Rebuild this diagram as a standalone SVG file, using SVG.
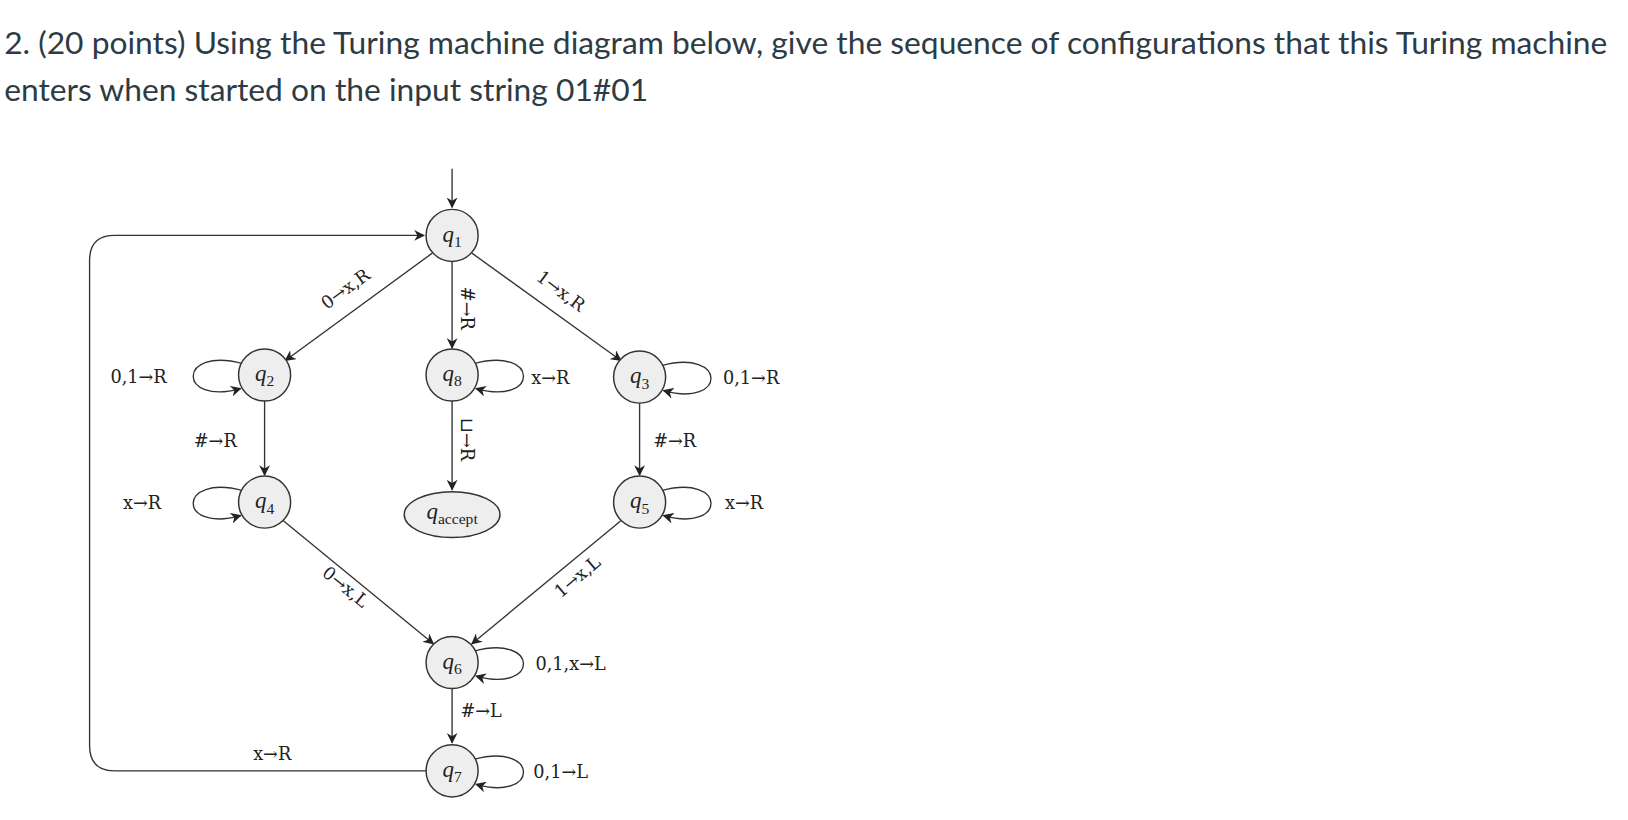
<svg xmlns="http://www.w3.org/2000/svg" width="1628" height="820" viewBox="0 0 1628 820">
<style>
.h{font-family:Lato,"Open Sans",sans-serif;font-size:30.5px;fill:#2d3b45}
.n{fill:#eeeeee;stroke:#333;stroke-width:1.4}
.q{font-family:"Liberation Serif",serif;font-style:italic;font-size:22px;fill:#222;text-anchor:middle}
.s{font-size:15px;font-style:normal}
.e{fill:none;stroke:#333;stroke-width:1.3;marker-end:url(#a)}
.l{font-family:"DejaVu Serif",serif;font-size:17px;fill:#222}
</style>
<defs><marker id="a" viewBox="0 0 10 10" refX="9" refY="5" markerWidth="8" markerHeight="8" orient="auto"><path d="M0,0 L10,5 L0,10 L3,5 z" fill="#222"/></marker></defs>
<rect width="1628" height="820" fill="#fff"/>
<g transform="scale(1.0417)">
<text class="h" x="4" y="52">2. (20 points) Using the Turing machine diagram below, give the sequence of configurations that this Turing machine</text>
<text class="h" x="4" y="97">enters when started on the input string 01#01</text>
<g id="edges">
<path class="e" d="M434,162 V199"/>
<path class="e" d="M415,243 L274,346"/>
<path class="e" d="M453,243 L596,346"/>
<path class="e" d="M434,251 V334"/>
<path class="e" d="M434,385 V470"/>
<path class="e" d="M254,385 V456"/>
<path class="e" d="M614,387 V456"/>
<path class="e" d="M272,500 L416,618"/>
<path class="e" d="M596,500 L453,618"/>
<path class="e" d="M434,661 V713"/>
<path class="e" d="M409,740 H110 Q86,740 86,716 V250 Q86,226 110,226 H407"/>
<path class="e" d="M233,349 C170,332 170,390 231,373"/>
<path class="e" d="M233,471 C170,454 170,512 231,495"/>
<path class="e" d="M455,349 C518,332 518,390 457,373"/>
<path class="e" d="M635,351 C698,334 698,392 637,375"/>
<path class="e" d="M635,471 C698,454 698,512 637,495"/>
<path class="e" d="M455,625 C518,608 518,666 457,649"/>
<path class="e" d="M455,729 C518,712 518,770 457,753"/>
<text class="l" x="335" y="282" transform="rotate(-36 335 282)" text-anchor="middle">0→x,R</text>
<text class="l" x="535" y="284" transform="rotate(37 535 284)" text-anchor="middle">1→x,R</text>
<text class="l" x="443" y="296" transform="rotate(90 443 296)" text-anchor="middle">#→R</text>
<text class="l" x="443" y="422" transform="rotate(90 443 422)" text-anchor="middle">⊔→R</text>
<text class="l" x="328" y="568" transform="rotate(39 328 568)" text-anchor="middle">0→x,L</text>
<text class="l" x="558" y="558" transform="rotate(-40 558 558)" text-anchor="middle">1→x,L</text>
<text class="l" x="106" y="368">0,1→R</text>
<text class="l" x="186" y="429">#→R</text>
<text class="l" x="118" y="489">x→R</text>
<text class="l" x="510" y="369">x→R</text>
<text class="l" x="694" y="369">0,1→R</text>
<text class="l" x="627" y="429">#→R</text>
<text class="l" x="696" y="489">x→R</text>
<text class="l" x="514" y="643">0,1,x→L</text>
<text class="l" x="442" y="688">#→L</text>
<text class="l" x="243" y="730">x→R</text>
<text class="l" x="512" y="747">0,1→L</text>
</g>
<g id="q1"><circle class="n" cx="434" cy="226" r="25"/><text class="q" x="434" y="232">q<tspan class="s" dy="5">1</tspan></text></g>
<g id="q2"><circle class="n" cx="254" cy="360" r="25"/><text class="q" x="254" y="366">q<tspan class="s" dy="5">2</tspan></text></g>
<g id="q8"><circle class="n" cx="434" cy="360" r="25"/><text class="q" x="434" y="366">q<tspan class="s" dy="5">8</tspan></text></g>
<g id="q3"><circle class="n" cx="614" cy="362" r="25"/><text class="q" x="614" y="368">q<tspan class="s" dy="5">3</tspan></text></g>
<g id="q4"><circle class="n" cx="254" cy="482" r="25"/><text class="q" x="254" y="488">q<tspan class="s" dy="5">4</tspan></text></g>
<g id="qaccept"><ellipse class="n" cx="434" cy="494" rx="46" ry="22"/><text class="q" x="434" y="498">q<tspan class="s" dy="5">accept</tspan></text></g>
<g id="q5"><circle class="n" cx="614" cy="482" r="25"/><text class="q" x="614" y="488">q<tspan class="s" dy="5">5</tspan></text></g>
<g id="q6"><circle class="n" cx="434" cy="636" r="25"/><text class="q" x="434" y="642">q<tspan class="s" dy="5">6</tspan></text></g>
<g id="q7"><circle class="n" cx="434" cy="740" r="25"/><text class="q" x="434" y="746">q<tspan class="s" dy="5">7</tspan></text></g>
</g>
</svg>
